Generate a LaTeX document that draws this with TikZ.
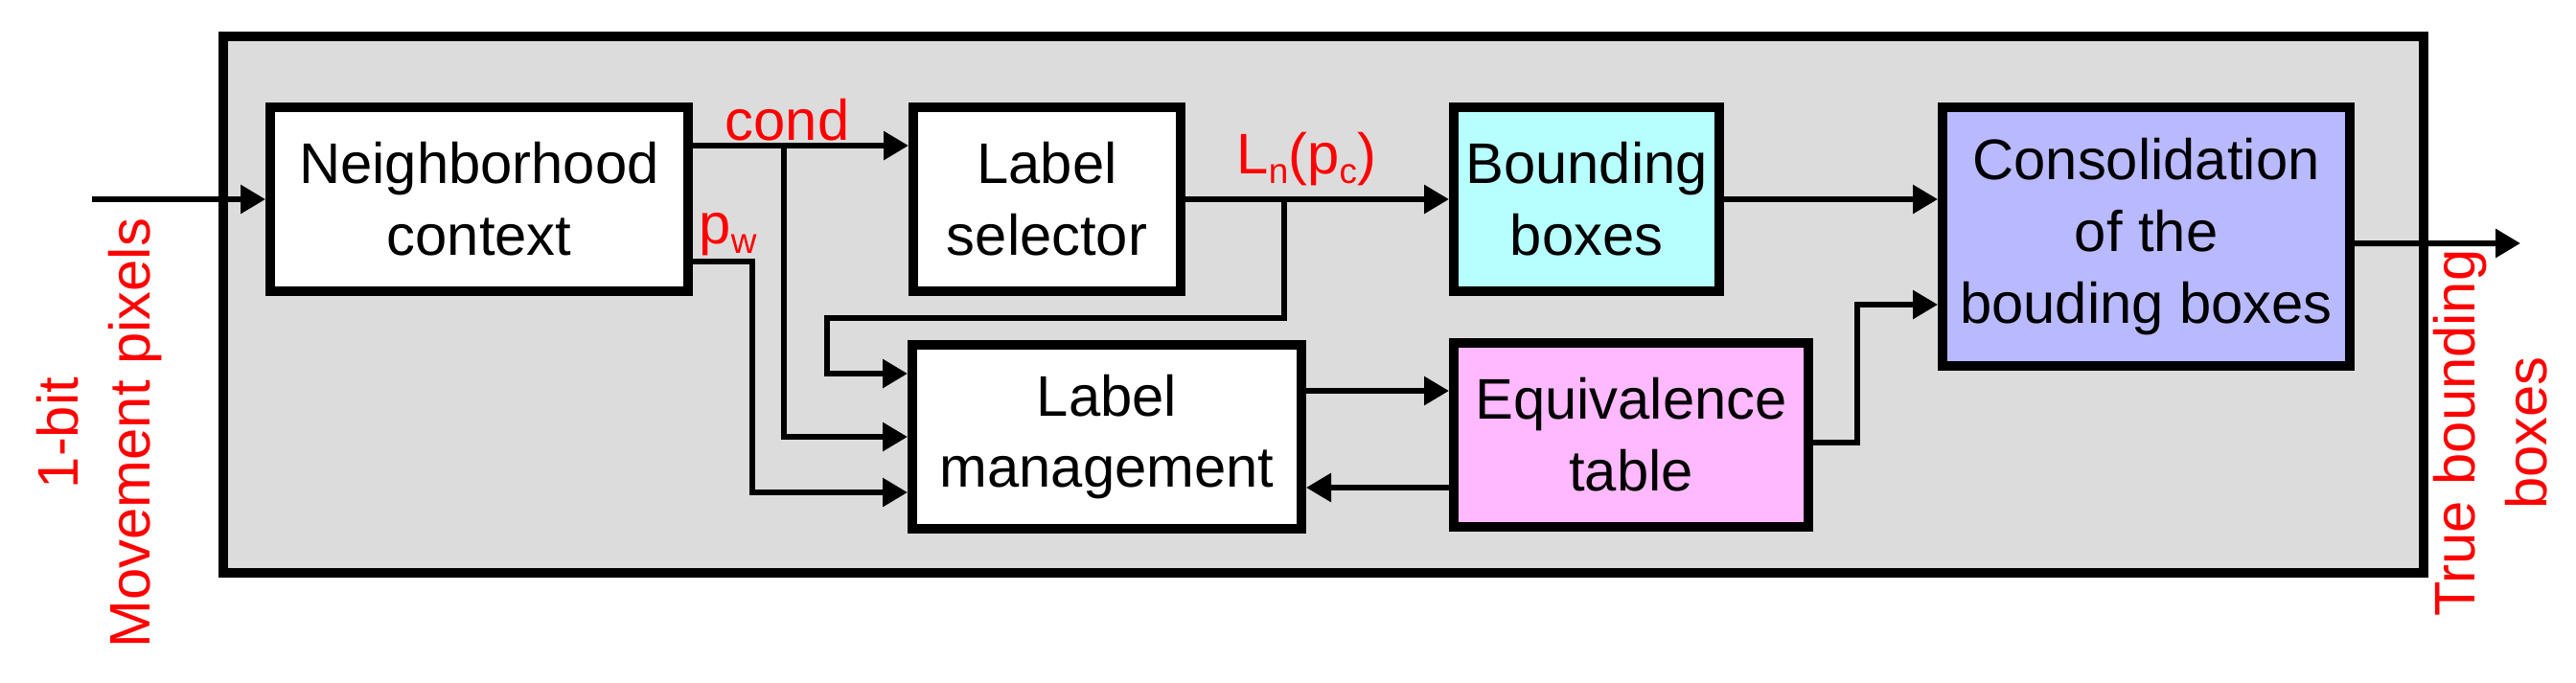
\documentclass[tikz,border=0pt]{standalone}
\usepackage{fontspec}
\setmainfont{Liberation Sans}
\usetikzlibrary{arrows.meta, calc, positioning}

\definecolor{panelgray}{RGB}{220,220,220}
\definecolor{bbcyan}{RGB}{183,255,255}
\definecolor{eqpink}{RGB}{255,185,255}
\definecolor{conblue}{RGB}{185,185,255}
\newcommand{\lowidx}[1]{\raisebox{-0.18em}{\fontsize{10.5}{12}\selectfont #1}}

\tikzset{
  blk/.style={draw, line width=0.1cm, fill=white, align=center, inner sep=0pt},
  lbl/.style={text=red, inner sep=0pt},
  wire/.style={line width=0.06cm, -{Triangle[length=0.26cm,width=0.29cm]}},
}

\begin{document}
\begin{tikzpicture}[font=\fontsize{17}{21.3}\selectfont]
\useasboundingbox (0,0) rectangle (26.88,-7.12);

% frame
\node[draw, line width=0.1cm, fill=panelgray, minimum width=22.96cm, minimum height=5.60cm, inner sep=0pt] (frame) at (13.81,-3.18) {};

% blocks
\node[blk, minimum width=4.36cm, minimum height=1.92cm] (nc) at (5.00,-2.08) {Neighborhood\\context};
\node[blk, minimum width=2.79cm, minimum height=1.92cm] (ls) at (10.925,-2.08) {Label\\selector};
\node[blk, fill=bbcyan, minimum width=2.77cm, minimum height=1.92cm] (bb) at (16.555,-2.08) {Bounding\\boxes};
\node[blk, fill=conblue, minimum width=4.25cm, minimum height=2.70cm] (cons) at (22.395,-2.47) {Consolidation\\of the\\bouding boxes};
\node[blk, minimum width=4.06cm, minimum height=1.92cm] (lm) at (11.55,-4.56) {Label\\management};
\node[blk, fill=eqpink, minimum width=3.70cm, minimum height=1.92cm] (et) at (17.02,-4.54) {Equivalence\\table};

% input / output
\coordinate (inp) at (0.96,-2.08);
\coordinate (outp) at (26.30,-2.54);
\draw[wire] (inp) -- (nc.west);
\draw[wire] ([yshift=-0.07cm]cons.east) -- (outp);

% cond and p_w
\draw[wire] ([yshift=0.56cm]nc.east) -- ([yshift=0.56cm]ls.west);
\draw[wire] ([xshift=0.95cm,yshift=0.56cm]nc.east) |- (lm.west);
\draw[wire] ([yshift=-0.65cm]nc.east) -- ++(0.62,0) |- ([yshift=-0.58cm]lm.west);

% L_n(p_c)
\draw[wire] (ls.east) -- (bb.west);
\draw[wire] ([xshift=1.03cm]ls.east) -- ++(0,-1.24) -- ++(-4.77,0) |- ([yshift=0.66cm]lm.west);

\draw[wire] (bb.east) -- (bb.east -| cons.west);
\draw[wire] ([yshift=0.48cm]lm.east) -- ([yshift=0.48cm]lm.east -| et.west);
\draw[wire] ([yshift=-0.55cm]et.west) -- ([yshift=-0.55cm]et.west -| lm.east);
\draw[wire] ([yshift=-0.08cm]et.east) -- ++(0.46,0) |- ([yshift=-0.71cm]cons.west);

% red labels
\node[lbl, anchor=base west] (cond) at (7.56,-1.46) {cond};
\node[lbl, anchor=base west] (pw) at (7.29,-2.54) {p\lowidx{w}};
\node[lbl, anchor=base west] (lnpc) at (12.90,-1.81) {L\lowidx{n}(p\lowidx{c})};
\node[lbl, rotate=90, align=center] (inlbl) at (1.035,-4.52) {1-bit\\Movement pixels};
\node[lbl, rotate=90, align=center] (outlbl) at (25.985,-4.52) {True bounding\\boxes};

\end{tikzpicture}
\end{document}
